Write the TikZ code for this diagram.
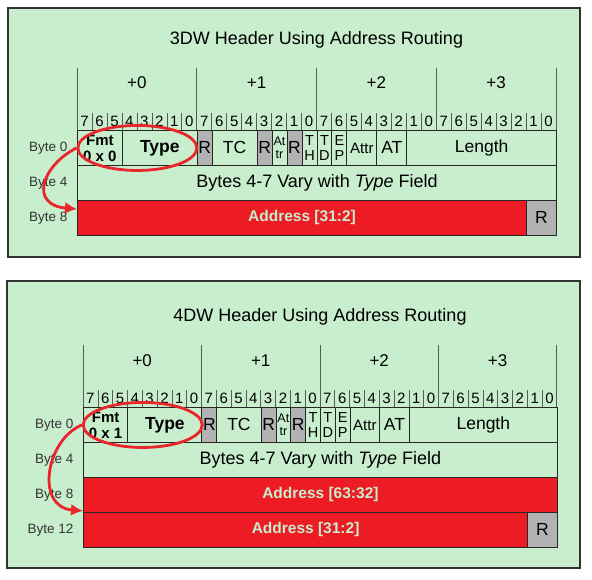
\documentclass[tikz,border=0pt]{standalone}
\usepackage{fontspec}
\setmainfont{Liberation Sans}
\usetikzlibrary{arrows.meta,positioning,calc,shapes.geometric}
\definecolor{panelgreen}{HTML}{C8EECE}
\definecolor{rsvgrey}{HTML}{B2B2B2}
\definecolor{addrred}{HTML}{ED1C24}
\definecolor{ringred}{HTML}{E8262C}
\newcommand\bitw{14.97}
\tikzset{
  panelbox/.style={draw=black!80,fill=panelgreen,line width=1.1pt},
  paneltitle/.style={font=\fontsize{18}{18}\selectfont},
  bytesep/.style={draw=black!65,line width=0.9pt},
  bittick/.style={draw=black!65,line width=0.6pt},
  byteoffset/.style={font=\fontsize{17}{17}\selectfont},
  bitnum/.style={font=\fontsize{15}{15}\selectfont,inner sep=0pt},
  bits/.style={minimum width={#1*\bitw pt}},
  fieldcell/.style={draw=black!85,line width=0.9pt,inner sep=0pt,align=center,
    anchor=north west,minimum height=35pt,font=\fontsize{17.5}{17.5}\selectfont},
  rsvcell/.style={fieldcell,fill=rsvgrey},
  smallcell/.style={fieldcell,font=\fontsize{14.5}{15.5}\selectfont},
  tinycell/.style={fieldcell,font=\fontsize{12.5}{12.5}\selectfont},
  attrcell/.style={fieldcell,font=\fontsize{15}{15}\selectfont},
  fmtcell/.style={fieldcell,font=\bfseries\fontsize{15}{16}\selectfont},
  typecell/.style={fieldcell,font=\bfseries\fontsize{17.5}{18}\selectfont},
  addrcell/.style={fieldcell,fill=addrred,text=panelgreen,
    font=\bfseries\fontsize{15.5}{16}\selectfont},
  bytelabel/.style={text=black!80,font=\fontsize{13.5}{13.5}\selectfont},
  fmtring/.style={ellipse,draw=ringred,line width=2.8pt,minimum width=119pt,minimum height=45pt},
  ringarrow/.style={-{Latex[length=12pt,width=12pt]},draw=ringred,line width=2.8pt}
}

\begin{document}
\begin{tikzpicture}[x=1pt,y=-1pt]
  \useasboundingbox (0,0) rectangle (592,579);

  % 3DW header
  \draw[panelbox] (8,8) rectangle (580,257);
  \node[paneltitle] (titleA) at (316.5,40) {3DW Header Using Address Routing};
  \renewcommand\bitw{14.97}
  \begin{scope}[shift={(77pt,0pt)},x=\bitw pt]
    \foreach \i in {1,...,31} \draw[bittick] (\i,113) -- (\i,130);
    \foreach \b in {0,8,16,24,32} \draw[bytesep] (\b,68) -- (\b,130);
    \foreach \n in {0,...,3} \node[byteoffset] (offA\n) at (8*\n+4,83) {+\n};
    \foreach \i in {0,...,31} {
      \pgfmathtruncatemacro\bitval{7-mod(\i,8)}
      \node[bitnum] (bitA\i) at (\i+0.5,121) {\bitval};
    }
    \node[fmtcell,bits=3] (fmtA) at (0,130) {Fmt\\0 x 0};
    \node[typecell,bits=5] (typeA) at (3,130) {Type};
    \node[rsvcell,bits=1] (rA1) at (8,130) {R};
    \node[fieldcell,bits=3] (tcA) at (9,130) {TC};
    \node[rsvcell,bits=1] (rA2) at (12,130) {R};
    \node[tinycell,bits=1] (atA) at (13,130) {At\\tr};
    \node[rsvcell,bits=1] (rA3) at (14,130) {R};
    \node[smallcell,bits=1] (thA) at (15,130) {T\\H};
    \node[smallcell,bits=1] (tdA) at (16,130) {T\\D};
    \node[smallcell,bits=1] (epA) at (17,130) {E\\P};
    \node[attrcell,bits=2] (attrA) at (18,130) {Attr};
    \node[fieldcell,bits=2] (atypeA) at (20,130) {AT};
    \node[fieldcell,bits=10] (lenA) at (22,130) {Length};
    \node[fieldcell,bits=32,font=\fontsize{18}{18}\selectfont] (varyA) at (0,165) {Bytes 4-7 Vary with \textit{Type} Field};
    \node[addrcell,bits=30] (addrA) at (0,200) {Address [31:2]};
    \node[rsvcell,bits=2] (rA4) at (30,200) {R};
  \end{scope}
  \node[bytelabel,left=6pt of fmtA.west,anchor=east] (byteA0) {Byte 0};
  \node[bytelabel,left=6pt of varyA.west,anchor=east] (byteA4) {Byte 4};
  \node[bytelabel,left=6pt of addrA.west,anchor=east] (byteA8) {Byte 8};
  \node[fmtring] (ringA) at ($(fmtA.west)!0.5!(typeA.east)$) {};
  \coordinate (tipA) at ([yshift=-9pt]addrA.north west);
  \draw[ringarrow] (ringA.west) .. controls ($(ringA.west)+(-35,18)$) and ($(tipA)+(-48,-4)$) .. (tipA);

  % 4DW header
  \draw[panelbox] (7,281) rectangle (580,568);
  \node[paneltitle] (titleB) at (320,317) {4DW Header Using Address Routing};
  \renewcommand\bitw{14.81}
  \begin{scope}[shift={(83pt,-277pt)},x=\bitw pt]
    \foreach \i in {1,...,31} \draw[bittick] (\i,113) -- (\i,130);
    \foreach \b in {0,8,16,24,32} \draw[bytesep] (\b,68) -- (\b,130);
    \foreach \n in {0,...,3} \node[byteoffset] (offB\n) at (8*\n+4,84) {+\n};
    \foreach \i in {0,...,31} {
      \pgfmathtruncatemacro\bitval{7-mod(\i,8)}
      \node[bitnum] (bitB\i) at (\i+0.5,121) {\bitval};
    }
    \node[fmtcell,bits=3] (fmtB) at (0,130) {Fmt\\0 x 1};
    \node[typecell,bits=5] (typeB) at (3,130) {Type};
    \node[rsvcell,bits=1] (rB1) at (8,130) {R};
    \node[fieldcell,bits=3] (tcB) at (9,130) {TC};
    \node[rsvcell,bits=1] (rB2) at (12,130) {R};
    \node[tinycell,bits=1] (atB) at (13,130) {At\\tr};
    \node[rsvcell,bits=1] (rB3) at (14,130) {R};
    \node[smallcell,bits=1] (thB) at (15,130) {T\\H};
    \node[smallcell,bits=1] (tdB) at (16,130) {T\\D};
    \node[smallcell,bits=1] (epB) at (17,130) {E\\P};
    \node[attrcell,bits=2] (attrB) at (18,130) {Attr};
    \node[fieldcell,bits=2] (atypeB) at (20,130) {AT};
    \node[fieldcell,bits=10] (lenB) at (22,130) {Length};
    \node[fieldcell,bits=32,font=\fontsize{18}{18}\selectfont] (varyB) at (0,165) {Bytes 4-7 Vary with \textit{Type} Field};
    \node[addrcell,bits=32] (addrHiB) at (0,200) {Address [63:32]};
    \node[addrcell,bits=30] (addrLoB) at (0,235) {Address [31:2]};
    \node[rsvcell,bits=2] (rB4) at (30,235) {R};
  \end{scope}
  \node[bytelabel,left=6pt of fmtB.west,anchor=east] (byteB0) {Byte 0};
  \node[bytelabel,left=6pt of varyB.west,anchor=east] (byteB4) {Byte 4};
  \node[bytelabel,left=6pt of addrHiB.west,anchor=east] (byteB8) {Byte 8};
  \node[bytelabel,left=6pt of addrLoB.west,anchor=east] (byteB12) {Byte 12};
  \node[fmtring] (ringB) at ($(fmtB.west)!0.5!(typeB.east)$) {};
  \coordinate (tipB) at ([yshift=2pt]addrHiB.south west);
  \draw[ringarrow] (ringB.west) .. controls ($(ringB.west)+(-36,15)$) and ($(tipB)+(-48,-4)$) .. (tipB);
\end{tikzpicture}
\end{document}
